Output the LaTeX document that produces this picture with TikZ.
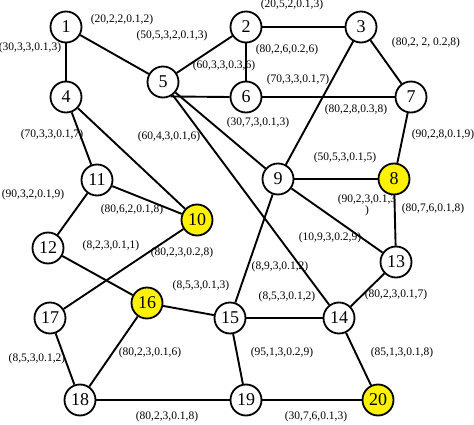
\documentclass[tikz,border=0pt]{standalone}
\usepackage{fontspec}
\setmainfont{Liberation Serif}
\begin{document}
\begin{tikzpicture}[x=1pt,y=-1pt,
  vtx/.style={circle,draw,line width=1.8pt,fill=white,minimum size=31pt,inner sep=0pt,font=\fontsize{18}{18}\selectfont},
  hot/.style={vtx,fill=yellow},
  edge/.style={line width=1.9pt},
  lbl/.style={font=\fontsize{11.5}{10}\selectfont,inner sep=0pt,align=center}]
\useasboundingbox (0,0) rectangle (474,425);
\node[vtx] (n1) at (66,27) {1};
\node[vtx] (n2) at (246,27) {2};
\node[vtx] (n3) at (361,27) {3};
\node[vtx] (n4) at (66,97) {4};
\node[vtx] (n5) at (163,82) {5};
\node[vtx] (n6) at (246,97) {6};
\node[vtx] (n7) at (411,97) {7};
\node[hot] (n8) at (394,179) {8};
\node[vtx] (n9) at (278,179) {9};
\node[hot] (n10) at (197,220) {10};
\node[vtx] (n11) at (97,180) {11};
\node[vtx] (n12) at (48,248) {12};
\node[vtx] (n13) at (396,262) {13};
\node[vtx] (n14) at (339,318) {14};
\node[vtx] (n15) at (230,318) {15};
\node[hot] (n16) at (147,303) {16};
\node[vtx] (n17) at (50,318) {17};
\node[vtx] (n18) at (80,400) {18};
\node[vtx] (n19) at (246,400) {19};
\node[hot] (n20) at (378,400) {20};
\foreach \a/\b in {n1/n4,n1/n5,n2/n5,n2/n3,n2/n6,n3/n7,n3/n9,n6/n7,n7/n8,n8/n9,n8/n13,n9/n13,n5/n9,n5/n14,n9/n15,n4/n11,n4/n10,n11/n10,n11/n12,n12/n16,n10/n17,n16/n15,n16/n18,n17/n18,n15/n14,n15/n19,n14/n13,n14/n20,n18/n19,n19/n20}
  \draw[edge] (\a) -- (\b);
\draw[edge] (n5.-62) -- (n6.west);
\node[lbl] (l1) at (122,20) {(20,2,2,0.1,2)};
\node[lbl] (l2) at (172,36) {(50,5,3,2,0.1,3)};
\node[lbl] (l3) at (30,48) {(30,3,3,0.1,3)};
\node[lbl] (l4) at (224,66) {(60,3,3,0.3,6)};
\node[lbl] (l5) at (292,5) {(20,5,2,0.1,3)};
\node[lbl] (l6) at (287,50) {(80,2,6,0.2,6)};
\node[lbl] (l7) at (426,43) {(80,2, 2, 0.2,8)};
\node[lbl] (l8) at (298,80) {(70,3,3,0.1,7)};
\node[lbl] (l9) at (356,110) {(80,2,8,0.3,8)};
\node[lbl] (l10) at (258,123) {(30,7,3,0.1,3)};
\node[lbl] (l11) at (443,135) {(90,2,8,0.1,9)};
\node[lbl] (l12) at (52,135) {(70,3,3,0.1,7)};
\node[lbl] (l13) at (169,137) {(60,4,3,0.1,6)};
\node[lbl] (l14) at (33,195) {(90,3,2,0.1,9)};
\node[lbl] (l15) at (132,210) {(80,6,2,0.1,8)};
\node[lbl] (l16) at (111,246) {(8,2,3,0.1,1)};
\node[lbl] (l17) at (182,253) {(80,2,3,0.2,8)};
\node[lbl] (l18) at (345,158) {(50,5,3,0.1,5)};
\node[lbl] (l19) at (367,205) {(90,2,3,0.1,3\\)};
\node[lbl] (l20) at (433,209) {(80,7,6,0.1,8)};
\node[lbl] (l21) at (330,238) {(10,9,3,0.2,9)};
\node[lbl] (l22) at (280,267) {(8,9,3,0.1,2)};
\node[lbl] (l23) at (201,286) {(8,5,3,0.1,3)};
\node[lbl] (l24) at (37,359) {(8,5,3,0.1,2)};
\node[lbl] (l25) at (150,353) {(80,2,3,0.1,6)};
\node[lbl] (l26) at (167,417) {(80,2,3,0.1,8)};
\node[lbl] (l27) at (287,297) {(8,5,3,0.1,2)};
\node[lbl] (l28) at (396,295) {(80,2,3,0.1,7)};
\node[lbl] (l29) at (282,353) {(95,1,3,0.2,9)};
\node[lbl] (l30) at (402,353) {(85,1,3,0.1,8)};
\node[lbl] (l31) at (316,417) {(30,7,6,0.1,3)};
\end{tikzpicture}
\end{document}
